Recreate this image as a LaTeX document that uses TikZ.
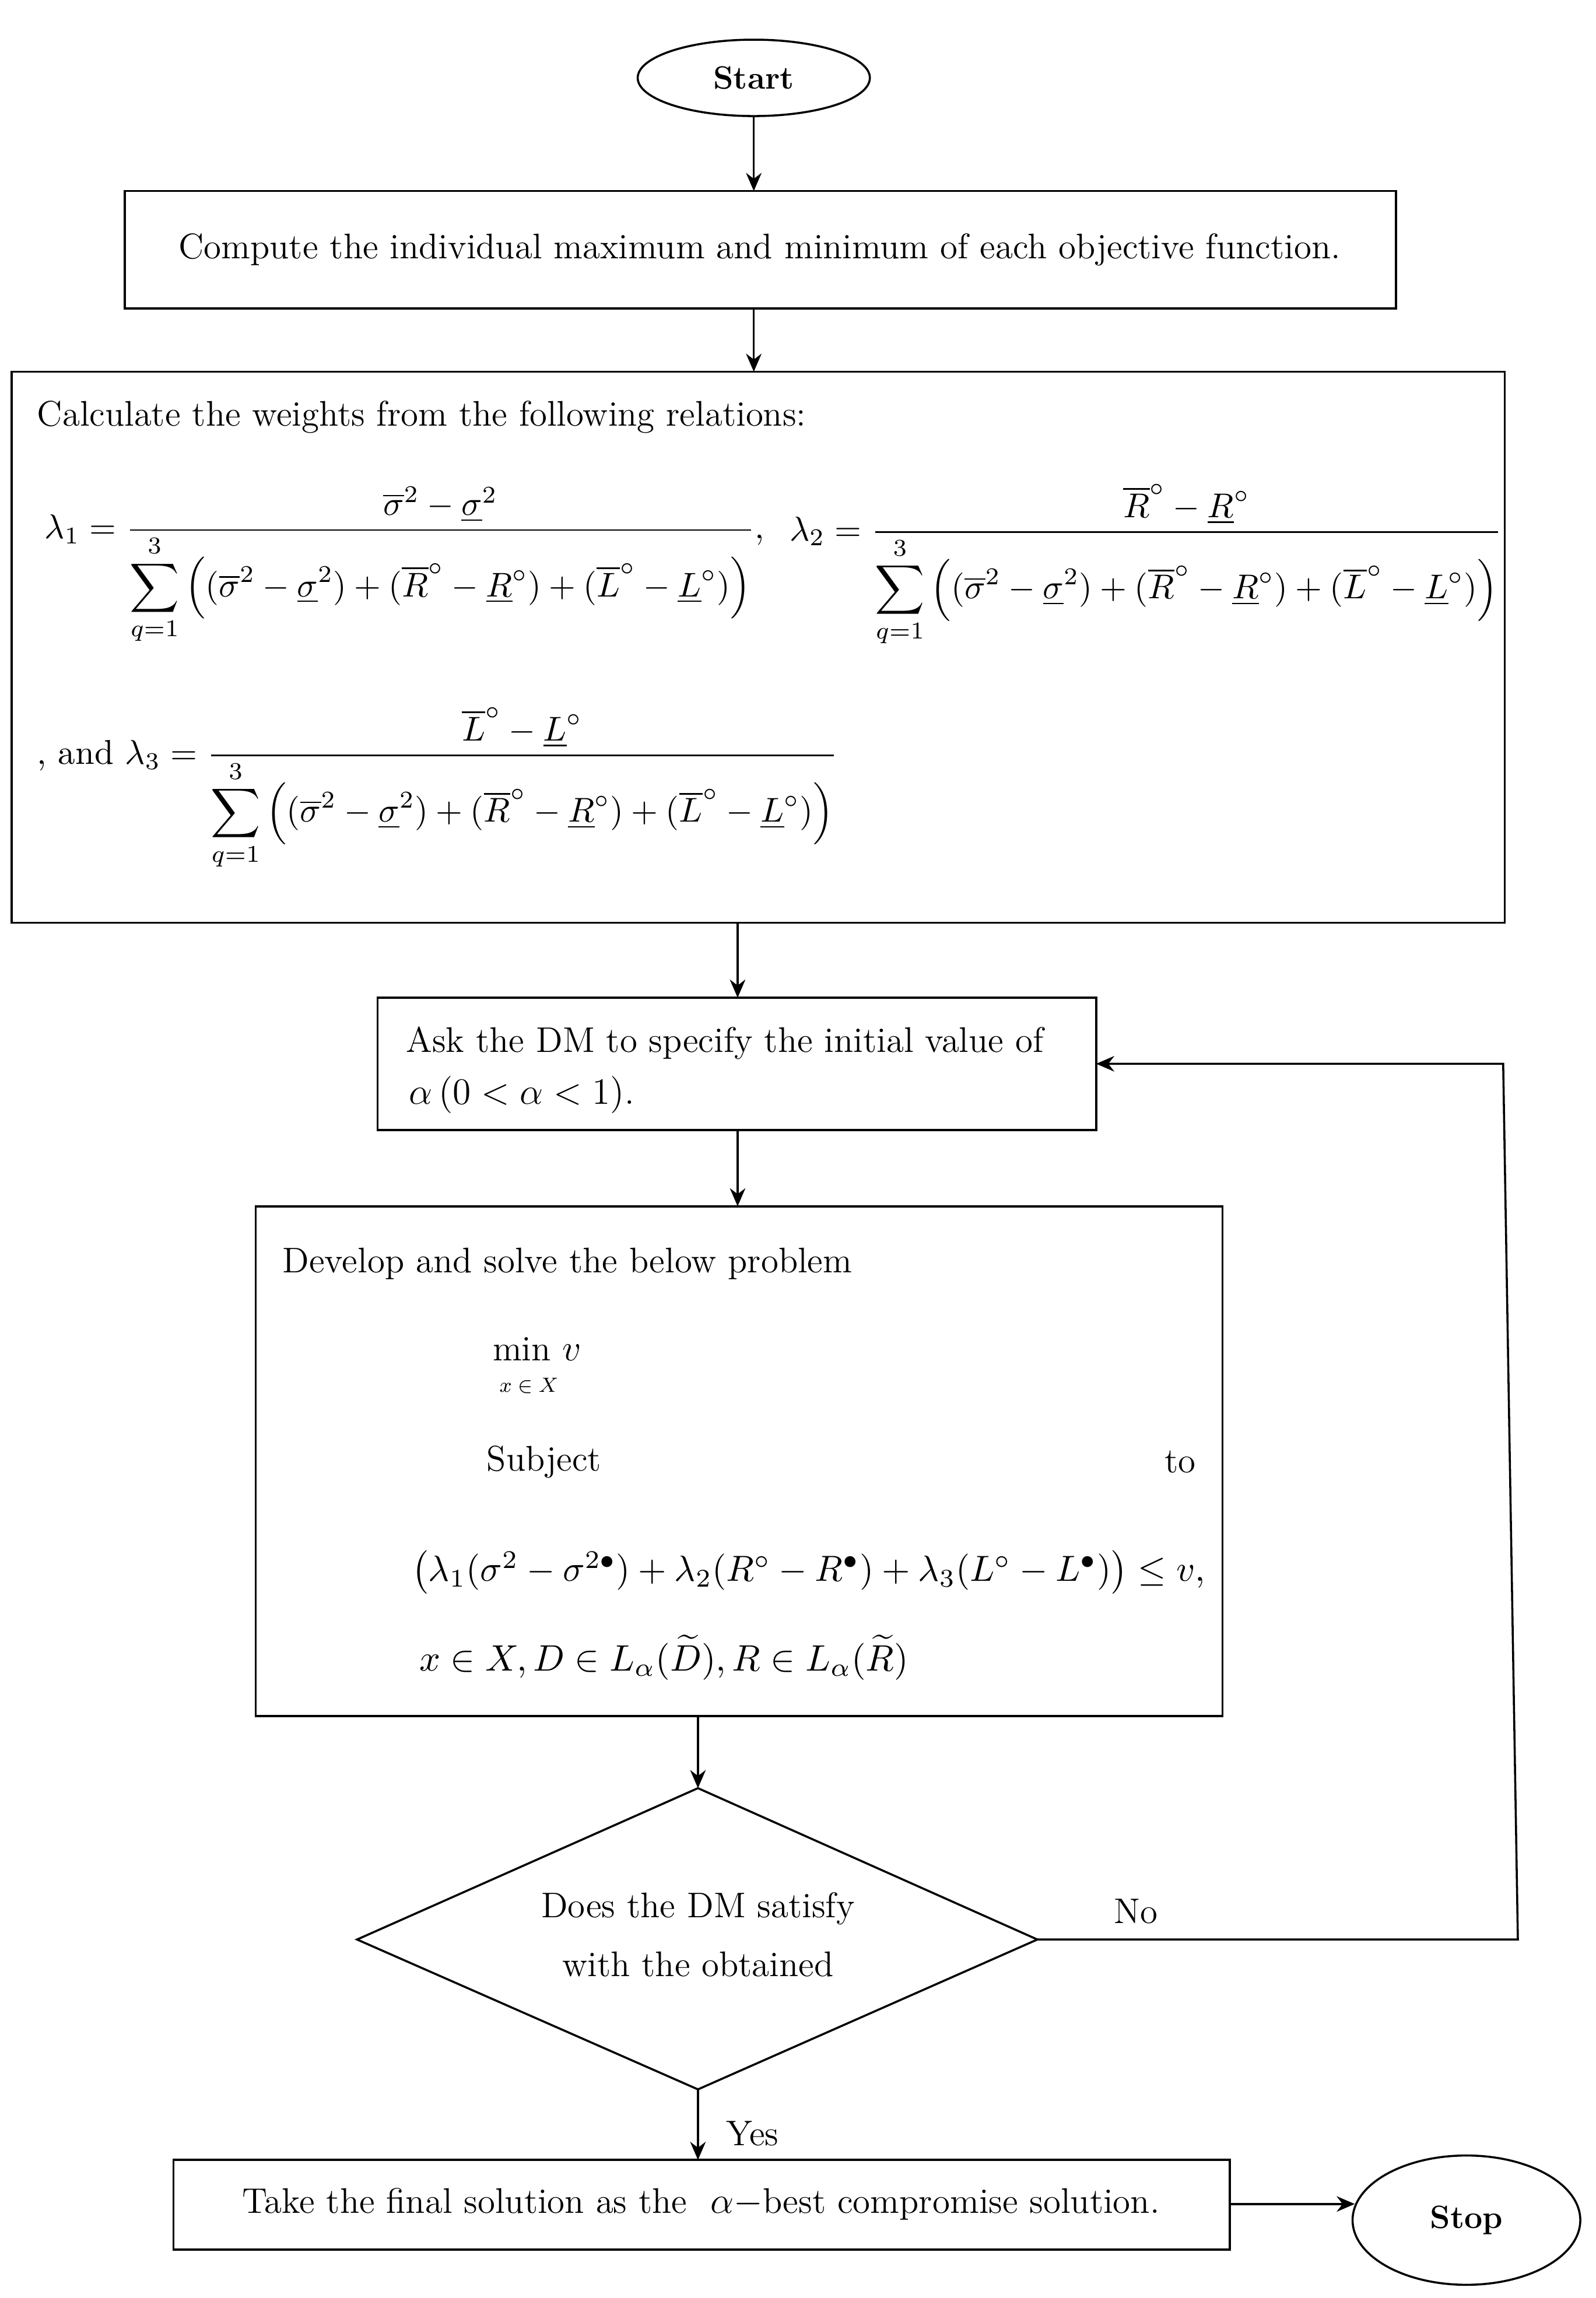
\documentclass[tikz,border=0pt]{standalone}
\usepackage{amsmath,amssymb,graphicx}
\usetikzlibrary{shapes.geometric,arrows.meta}
\newcommand{\ob}[1]{\overline{#1}}
\newcommand{\ub}[1]{\underline{#1}}
\newcommand{\dn}{\displaystyle\sum_{q=1}^{3}\left((\ob{\sigma}^{2}-\ub{\sigma}^{2})+(\ob{R}^{\circ}-\ub{R}^{\circ})+(\ob{L}^{\circ}-\ub{L}^{\circ})\right)}
\begin{document}
\begin{tikzpicture}[x=0.02cm,y=-0.02cm,
  box/.style={draw,line width=0.8pt},
  arr/.style={-{Stealth[length=7pt,width=6pt]},line width=0.8pt},
  txt/.style={font=\fontsize{13.8}{16}\selectfont,inner sep=0pt}]
\useasboundingbox (0,0) rectangle (1086,1564);
% start
\node[draw,ellipse,line width=0.8pt,minimum width=158*0.02cm,minimum height=52*0.02cm,font=\fontsize{12.5}{14}\selectfont\bfseries] (start) at (513,53) {Start};
% box1
\draw[box] (85,130) rectangle (950,210);
\node[txt] (t1) at (517,170) {Compute the individual maximum and minimum of each objective function.};
\coordinate (b1t) at (513,130); \coordinate (b1b) at (513,210);
% box2
\draw[box] (8,253) rectangle (1024,628);
\coordinate (b2t) at (513,253); \coordinate (b2b) at (502,628);
\node[txt,anchor=west] (t2) at (25,284) {Calculate the weights from the following relations:};
\node[inner sep=0pt,anchor=west] (f1) at (30,385) {\resizebox{9.8cm}{!}{$\lambda_1=\dfrac{\ob{\sigma}^{2}-\ub{\sigma}^{2}}{\dn},$}};
\node[inner sep=0pt,anchor=west] (f2) at (537,385) {\resizebox{9.7cm}{!}{$\lambda_2=\dfrac{\ob{R}^{\circ}-\ub{R}^{\circ}}{\dn}$}};
\node[inner sep=0pt,anchor=west] (f3) at (25,537) {\resizebox{10.9cm}{!}{$\text{, and }\lambda_3=\dfrac{\ob{L}^{\circ}-\ub{L}^{\circ}}{\dn}$}};
% box3
\draw[box] (257,679) rectangle (746,769);
\node[txt,anchor=west] (t3a) at (276,710) {Ask the DM to specify the initial value of};
\node[txt,anchor=west] (t3b) at (278,745) {$\alpha\,(0<\alpha<1)$.};
\coordinate (b3t) at (502,679); \coordinate (b3b) at (502,769); \coordinate (b3r) at (746,724);
% box4
\draw[box] (174,821) rectangle (832,1168);
\coordinate (b4t) at (502,821); \coordinate (b4b) at (475,1168);
\node[txt,anchor=west] (t4) at (192,860) {Develop and solve the below problem};
\node[txt,anchor=west] (mn) at (335,918) {min\ $v$};
\node[inner sep=0pt,font=\footnotesize] (mx) at (360,943) {$x\in X$};
\node[txt,anchor=west] (sj) at (331,995) {Subject};
\node[txt,anchor=east] (to) at (814,995) {to};
\node[inner sep=0pt,anchor=west] (c1) at (280,1070) {\resizebox{10.8cm}{!}{$\left(\lambda_1(\sigma^{2}-\sigma^{2\bullet})+\lambda_2(R^{\circ}-R^{\bullet})+\lambda_3(L^{\circ}-L^{\bullet})\right)\le v,$}};
\node[inner sep=0pt,anchor=west] (c2) at (285,1128) {\resizebox{6.66cm}{!}{$x\in X, D\in L_{\alpha}(\widetilde{D}), R\in L_{\alpha}(\widetilde{R})$}};
% diamond
\coordinate (dT) at (475,1217); \coordinate (dB) at (475,1422);
\coordinate (dL) at (243,1320); \coordinate (dR) at (706,1320);
\draw[box] (dT) -- (dR) -- (dB) -- (dL) -- cycle;
\node[txt] (d1) at (475,1299) {Does the DM satisfy};
\node[txt] (d2) at (475,1337) {with the obtained};
\node[txt] (no) at (773,1301) {No};
\node[txt] (yes) at (512,1452) {Yes};
% box5
\draw[box] (118,1470) rectangle (837,1531);
\node[txt] (t5) at (477,1500) {Take the final solution as the \ $\alpha-$best compromise solution.};
\coordinate (b5t) at (475,1470); \coordinate (b5r) at (837,1500); \coordinate (stw) at (922,1500);
% stop
\node[draw,ellipse,line width=0.8pt,minimum width=155*0.02cm,minimum height=88*0.02cm,font=\fontsize{12.5}{14}\selectfont\bfseries] (stop) at (998,1511) {Stop};
% arrows
\draw[arr] (start.south) -- (b1t);
\draw[arr] (b1b) -- (b2t);
\draw[arr] (b2b) -- (b3t);
\draw[arr] (b3b) -- (b4t);
\draw[arr] (b4b) -- (dT);
\draw[arr] (dB) -- (b5t);
\draw[arr] (b5r) -- (stw);
\coordinate (lp1) at (1033,1320); \coordinate (lp2) at (1023,724);
\draw[arr] (dR) -- (lp1) -- (lp2) -- (b3r);
\end{tikzpicture}
\end{document}
